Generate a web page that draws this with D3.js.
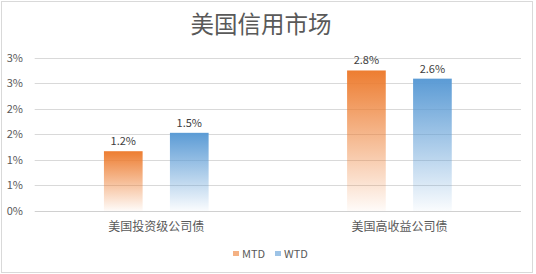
<!DOCTYPE html>
<html>
<head>
<meta charset="utf-8">
<script src="https://cdn.jsdelivr.net/npm/d3@7"></script>
<style>
  body { margin: 0; background: #fff; }
  svg text { font-family: "Noto Sans CJK SC", "Open Sans", sans-serif; }
</style>
</head>
<body>
<div id="chart"></div>
<script>
// chart data
const title = '美国信用市场';
const categories = ['美国投资级公司债', '美国高收益公司债'];
const seriesNames = ['MTD', 'WTD'];
const mtdValues = [1.17, 2.75];
const wtdValues = [1.53, 2.59];
const yTicks = [0, 0.5, 1, 1.5, 2, 2.5, 3];
const colors = { MTD: '#ED7D31', WTD: '#5B9BD5' };

const width = 536;
const height = 274;
const plot = { left: 34.7, right: 521, top: 57.7, bottom: 211 };

const svg = d3.select('#chart')
  .append('svg')
  .attr('width', width)
  .attr('height', height);

// gradients for the bars
const defs = svg.append('defs');
seriesNames.forEach((s) => {
  const g = defs.append('linearGradient')
    .attr('id', 'grad-' + s)
    .attr('x1', 0).attr('y1', 0).attr('x2', 0).attr('y2', 1);
  g.append('stop').attr('offset', '0%').attr('stop-color', colors[s]).attr('stop-opacity', 1);
  g.append('stop').attr('offset', '100%').attr('stop-color', colors[s]).attr('stop-opacity', 0.03);
});

// outer border
svg.append('rect')
  .attr('x', 1.5).attr('y', 1.5)
  .attr('width', 531).attr('height', 271)
  .attr('fill', '#fff')
  .attr('stroke', '#d9d9d9');

svg.append('text')
  .attr('x', 261)
  .attr('y', 33)
  .attr('text-anchor', 'middle')
  .attr('font-size', 23.5)
  .attr('fill', '#595959')
  .text(title);

const x0 = d3.scaleBand().domain(categories).range([plot.left, plot.right]);
const x1 = d3.scaleBand().domain(seriesNames)
  .range([0, x0.bandwidth()])
  .paddingInner(0.414)
  .paddingOuter(1.049);
const y = d3.scaleLinear().domain([0, 3]).range([plot.bottom, plot.top]);

// gridlines
svg.append('g')
  .selectAll('line')
  .data(yTicks)
  .join('line')
  .attr('x1', plot.left)
  .attr('x2', plot.right)
  .attr('y1', (d) => Math.round(y(d)) + 0.5)
  .attr('y2', (d) => Math.round(y(d)) + 0.5)
  .attr('stroke', (d) => d === 0 ? '#d0d0d0' : '#d9d9d9');

// y tick labels, excel style rounding
svg.append('g')
  .selectAll('text')
  .data(yTicks)
  .join('text')
  .attr('x', 23)
  .attr('y', (d) => y(d) + 4)
  .attr('text-anchor', 'end')
  .attr('font-size', 11)
  .attr('fill', '#595959')
  .text((d) => Math.round(d + 1e-9) + '%');

const rows = categories.map((c, i) => ({
  category: c,
  values: [
    { key: 'MTD', value: mtdValues[i] },
    { key: 'WTD', value: wtdValues[i] },
  ],
}));

const groups = svg.append('g')
  .selectAll('g')
  .data(rows)
  .join('g')
  .attr('transform', (d) => `translate(${x0(d.category)},0)`);

groups.selectAll('rect')
  .data((d) => d.values)
  .join('rect')
  .attr('x', (d) => x1(d.key))
  .attr('y', (d) => y(d.value))
  .attr('width', x1.bandwidth())
  .attr('height', (d) => y(0) - y(d.value))
  .attr('fill', (d) => `url(#grad-${d.key})`);

// data labels
groups.selectAll('text')
  .data((d) => d.values)
  .join('text')
  .attr('x', (d) => x1(d.key) + x1.bandwidth() / 2)
  .attr('y', (d) => y(d.value) - 6)
  .attr('text-anchor', 'middle')
  .attr('font-size', 11)
  .attr('fill', '#404040')
  .text((d) => d.value.toFixed(1) + '%');

// category labels
svg.append('g')
  .selectAll('text')
  .data(categories)
  .join('text')
  .attr('x', (d) => x0(d) + x0.bandwidth() / 2)
  .attr('y', 231)
  .attr('text-anchor', 'middle')
  .attr('font-size', 12)
  .attr('fill', '#595959')
  .text((d) => d);

// legend
const legend = svg.append('g').attr('transform', 'translate(233,254)');
const legendX = [0, 42];
seriesNames.forEach((s, i) => {
  legend.append('rect')
    .attr('x', legendX[i])
    .attr('y', -3)
    .attr('width', 6)
    .attr('height', 5)
    .attr('fill', colors[s])
    .attr('opacity', 0.6);
  legend.append('text')
    .attr('x', legendX[i] + 9)
    .attr('y', 4)
    .attr('font-size', 11)
    .attr('fill', '#595959')
    .text(s);
});
</script>
</body>
</html>
